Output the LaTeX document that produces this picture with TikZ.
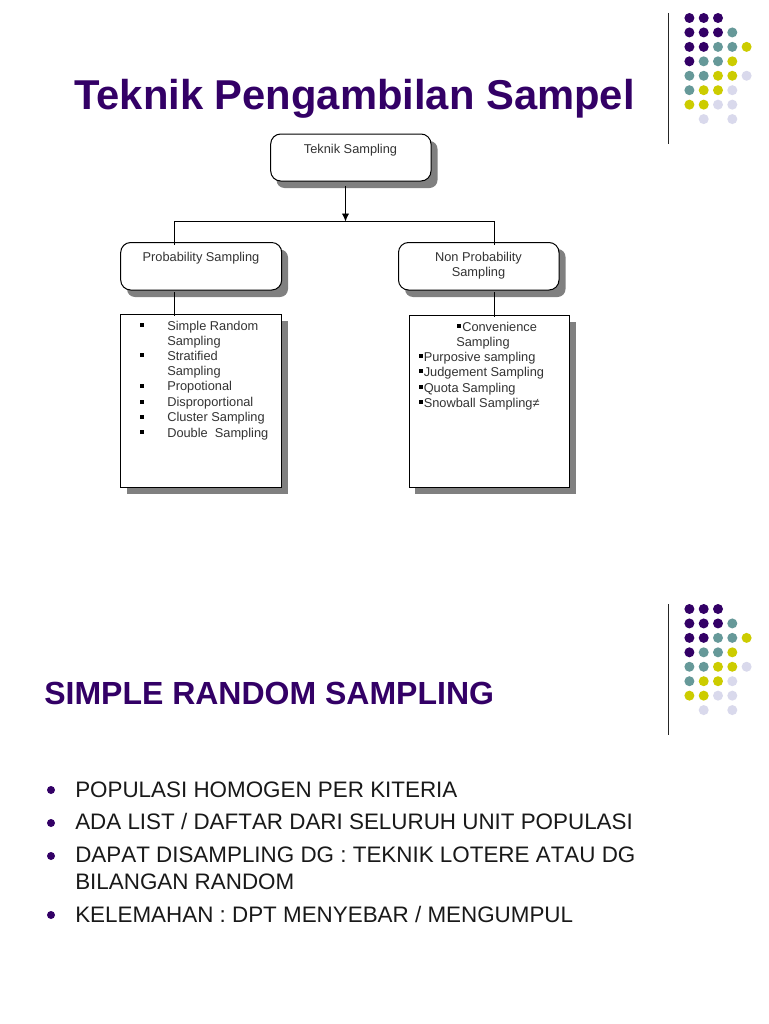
\documentclass[tikz,border=0pt]{standalone}
\usepackage{fontspec}
\setmainfont{Liberation Sans}
\usetikzlibrary{arrows.meta}
\definecolor{dpurple}{HTML}{330066}
\definecolor{dteal}{HTML}{669999}
\definecolor{dyellow}{HTML}{CCCC00}
\definecolor{dlav}{HTML}{D9D9EC}
\definecolor{shadowgray}{HTML}{808080}
\newcommand{\dotrow}[5]{%
  \foreach \cx/\cc in {#2}{\fill[\cc] ({#3+\cx*14.3},{#4+#1*14.44}) circle (#5);}}
\newcommand{\dotgrid}[1]{%
  \dotrow{0}{0/dpurple,1/dpurple,2/dpurple}{689.4}{#1}{5}
  \dotrow{1}{0/dpurple,1/dpurple,2/dpurple,3/dteal}{689.4}{#1}{5}
  \dotrow{2}{0/dpurple,1/dpurple,2/dteal,3/dteal,4/dyellow}{689.4}{#1}{5}
  \dotrow{3}{0/dpurple,1/dteal,2/dteal,3/dyellow}{689.4}{#1}{5}
  \dotrow{4}{0/dteal,1/dteal,2/dyellow,3/dyellow,4/dlav}{689.4}{#1}{5}
  \dotrow{5}{0/dteal,1/dyellow,2/dyellow,3/dlav}{689.4}{#1}{5}
  \dotrow{6}{0/dyellow,1/dyellow,2/dlav,3/dlav}{689.4}{#1}{5}
  \dotrow{7}{1/dlav,3/dlav}{689.4}{#1}{5}}
\tikzset{
  rbox/.style={draw=black,line width=0.75pt,fill=white,rounded corners=7.5pt},
  shad/.style={fill=shadowgray,rounded corners=6pt},
  lab/.style={font=\fontsize{9.6pt}{11.6pt}\selectfont,text=black!80,inner sep=0pt,align=center},
  item/.style={font=\fontsize{9.6pt}{11.6pt}\selectfont,text=black!80,inner sep=0pt,anchor=base west},
  sq/.style={fill=black,inner sep=0pt,minimum size=3pt},
  ttl/.style={text=dpurple,inner sep=0pt,anchor=base west},
  body/.style={font=\fontsize{16.8pt}{20pt}\selectfont,text=black!90,inner sep=0pt,anchor=base west},
  conn/.style={line width=0.72pt,draw=black},
  rule/.style={line width=1pt,draw=black!85},
  pbul/.style={fill=dpurple,circle,inner sep=0pt,minimum size=6pt}
}
\begin{document}
\begin{tikzpicture}[x=0.75pt,y=-0.75pt]
\useasboundingbox (0,0) rectangle (768,1024);
\fill[white] (0,0) rectangle (768,1024);
% decorations
\draw[rule] (668.5,13) -- (668.5,144);
\draw[rule] (668.5,604) -- (668.5,735);
\dotgrid{18}
\dotgrid{609}
% titles
\node[ttl,font=\fontsize{31.3pt}{36pt}\bfseries\selectfont] (t1) at (74,109) {Teknik Pengambilan Sampel};
\node[ttl,font=\fontsize{24pt}{28pt}\bfseries\selectfont] (t2) at (44,704) {SIMPLE RANDOM SAMPLING};
% shadows
\fill[shad] (276.5,141) rectangle (437.5,188);
\fill[shad] (127,249.5) rectangle (288,297);
\fill[shad] (405,249) rectangle (565.5,297);
\fill[shadowgray] (127,321) rectangle (288,494);
\fill[shadowgray] (415,322) rectangle (575.5,494);
% connector anchors
\coordinate (j) at (345.5,221.5);
\coordinate (jl) at (174.5,221.5);
\coordinate (jr) at (494.5,221.5);
% boxes
\draw[rbox] (270.7,134) rectangle (431,181);
\node[inner sep=0pt,minimum width=120.2pt,minimum height=35.25pt] (tek) at (350.85,157.5) {};
\node[lab] (tekl) at (350.5,150) {Teknik Sampling};
\draw[rbox] (120.7,242.5) rectangle (281.7,290);
\node[inner sep=0pt,minimum width=120.75pt,minimum height=35.6pt] (prob) at (201.2,266.25) {};
\node[lab] (probl) at (201,258) {Probability Sampling};
\draw[rbox] (398.5,242.5) rectangle (559,290);
\node[inner sep=0pt,minimum width=120.4pt,minimum height=35.6pt] (non) at (478.75,266.25) {};
\node[lab] (nonl) at (478.5,265.5) {Non Probability\\Sampling};
\node[draw=black,line width=0.75pt,fill=white,inner sep=0pt,minimum width=120.75pt,minimum height=129.75pt] (lb) at (201.2,400.5) {};
\node[draw=black,line width=0.75pt,fill=white,inner sep=0pt,minimum width=120pt,minimum height=129pt] (rb) at (489.3,401) {};
% connectors
\draw[conn,-{Latex[length=6pt,width=5.5pt]}] ([yshift=-3.75pt]j |- tek.south) -- (j);
\draw[conn] ([yshift=-1.9pt]jl |- prob.north) -- (jl) -- (jr) -- ([yshift=-1.9pt]jr |- non.north);
\draw[conn] ([yshift=-1.5pt]jl |- prob.south) -- ([yshift=-1.5pt]jl |- lb.north);
\draw[conn] ([yshift=-1.5pt]jr |- non.south) -- ([yshift=-1.5pt]jr |- rb.north);
% left list
\foreach \n/\yy/\tx in {a/330/Simple Random,b/345/Sampling,c/360/Stratified,d/375.5/Sampling,e/390.5/Propotional,f/406/Disproportional,g/421.5/Cluster Sampling,h/437/Double\ \ Sampling}{
  \node[item] (l\n) at (167,\yy) {\tx};}
\foreach \n/\yy in {a/324.5,c/355,e/385.5,f/401.5,g/416.5,h/432}{
  \node[sq] (ls\n) at (141.5,\yy) {};}
% right list
\node[item] (ra) at (462,331) {Convenience};
\node[item] (rb2) at (456,346) {Sampling};
\node[item] (rc) at (423.5,361.5) {Purposive sampling};
\node[item] (rd) at (423.5,376.5) {Judgement Sampling};
\node[item] (re) at (423.5,392.5) {Quota Sampling};
\node[item] (rf) at (423.5,407.5) {Snowball Sampling≠};
\node[sq] (rsa) at (458.8,325.5) {};
\node[sq] (rsc) at (420.5,356) {};
\node[sq] (rsd) at (420.5,371) {};
\node[sq] (rse) at (420.5,387) {};
\node[sq] (rsf) at (420.5,402) {};
% body
\node[body] (ba) at (75,797) {POPULASI HOMOGEN PER KITERIA};
\node[body] (bb) at (75,829.5) {\addfontfeature{Kerning=Off}ADA LIST / DAFTAR DARI SELURUH UNIT POPULASI};
\node[body] (bc) at (75,862) {\addfontfeature{Kerning=Off}DAPAT DISAMPLING DG : TEKNIK LOTERE ATAU DG};
\node[body] (bd) at (75,889) {BILANGAN RANDOM};
\node[body] (be) at (75,922) {KELEMAHAN : DPT MENYEBAR / MENGUMPUL};
\foreach \n/\yy in {a/790,b/823,c/856,e/915}{
  \node[pbul] (bb\n) at (51,\yy) {};}
\end{tikzpicture}
\end{document}
